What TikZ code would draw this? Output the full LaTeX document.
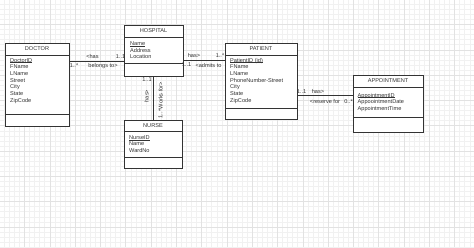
\documentclass[tikz,border=0pt]{standalone}
\usepackage{fontspec}
\setmainfont{Liberation Sans}
\definecolor{gminor}{HTML}{F1F1F1}
\definecolor{gmajor}{HTML}{E2E2E2}
\definecolor{ink}{HTML}{333333}
\newcommand\uln[1]{\setbox0\hbox{#1}\rlap{\rule[-0.8pt]{\wd0}{0.35pt}}\box0}
\begin{document}
\begin{tikzpicture}[x=1pt,y=-1pt,
  box/.style={draw=ink, line width=0.8pt, fill=white, anchor=north west, inner sep=0pt, outer sep=0pt},
  ttl/.style={font=\fontsize{5.6}{6.7}\selectfont, text=ink, inner sep=0pt},
  attr/.style={font=\fontsize{5.6}{6.7}\selectfont, text=ink, inner sep=0pt, anchor=base west},
  lbl/.style={font=\fontsize{5.6}{6.7}\selectfont, text=ink, inner sep=0pt},
  conn/.style={draw=ink, line width=0.7pt},
  divider/.style={draw=ink, line width=0.8pt},
  minorgrid/.style={draw=gminor, line width=0.5pt},
  majorgrid/.style={draw=gmajor, line width=0.6pt}]
\useasboundingbox (0,0) rectangle (474,247);
\fill[white] (0,0) rectangle (474,247);
% grid
\foreach \i in {0,...,94} {
  \draw[minorgrid] ({-0.8+\i*5.06},0) -- ({-0.8+\i*5.06},247);
}
\foreach \i in {0,...,49} {
  \draw[minorgrid] (0,{-0.8+\i*5.06}) -- (474,{-0.8+\i*5.06});
}
\foreach \i in {0,...,19} {
  \draw[majorgrid] ({-0.8+\i*25.3},0) -- ({-0.8+\i*25.3},247);
}
\foreach \i in {0,...,10} {
  \draw[majorgrid] (0,{-0.8+\i*25.3}) -- (474,{-0.8+\i*25.3});
}

% boxes
\node[box, minimum width=64pt, minimum height=83pt] (doctor) at (5,43) {};
\node[box, minimum width=59pt, minimum height=51pt] (hospital) at (124,25) {};
\node[box, minimum width=72pt, minimum height=76pt] (patient) at (225,43) {};
\node[box, minimum width=70pt, minimum height=57pt] (appointment) at (353,75) {};
\node[box, minimum width=58pt, minimum height=48pt] (nurse) at (124,120) {};

% dividers
\draw[divider] ([yshift=-12pt]doctor.north west) -- ([yshift=-12pt]doctor.north east);
\draw[divider] ([yshift=12pt]doctor.south west) -- ([yshift=12pt]doctor.south east);
\draw[divider] ([yshift=-12pt]hospital.north west) -- ([yshift=-12pt]hospital.north east);
\draw[divider] ([yshift=13pt]hospital.south west) -- ([yshift=13pt]hospital.south east);
\draw[divider] ([yshift=-12pt]patient.north west) -- ([yshift=-12pt]patient.north east);
\draw[divider] ([yshift=11pt]patient.south west) -- ([yshift=11pt]patient.south east);
\draw[divider] ([yshift=-12pt]appointment.north west) -- ([yshift=-12pt]appointment.north east);
\draw[divider] ([yshift=15pt]appointment.south west) -- ([yshift=15pt]appointment.south east);
\draw[divider] ([yshift=-11pt]nurse.north west) -- ([yshift=-11pt]nurse.north east);
\draw[divider] ([yshift=11pt]nurse.south west) -- ([yshift=11pt]nurse.south east);

% titles
\node[ttl] (tdoctor) at (37,49) {DOCTOR};
\node[ttl] (thospital) at (153.5,31) {HOSPITAL};
\node[ttl] (tpatient) at (261,49) {PATIENT};
\node[ttl] (tappointment) at (388,81) {APPOINTMENT};
\node[ttl] (tnurse) at (153,125.5) {NURSE};

% attributes
\foreach \t [count=\i] in {\uln{DoctorID},FName,LName,Street,City,State,ZipCode}
  \node[attr] (doc\i) at (10,{62+(\i-1)*6.7}) {\t};
\foreach \t [count=\i] in {\uln{Name},Address,Location}
  \node[attr] (hos\i) at (130,{45.3+(\i-1)*6.7}) {\t};
\foreach \t [count=\i] in {\uln{PatientID (id)},FName,LName,PhoneNumber-Street,City,State,ZipCode}
  \node[attr] (pat\i) at (230,{62+(\i-1)*6.7}) {\t};
\foreach \t [count=\i] in {\uln{AppointmentID},AppoointmentDate,AppointmentTime}
  \node[attr] (app\i) at (357.5,{97+(\i-1)*6.7}) {\t};
\foreach \t [count=\i] in {\uln{NurseID},Name,WardNo}
  \node[attr] (nur\i) at (129,{139.3+(\i-1)*6.5}) {\t};

% connectors
\draw[conn] (doctor.east |- 0,61.5) -- (hospital.west |- 0,61.5);
\draw[conn] (hospital.east |- 0,60.5) -- (patient.west |- 0,60.5);
\draw[conn] (patient.east |- 0,95.5) -- (appointment.west |- 0,95.5);
\draw[conn] (hospital.south) -- (hospital.south |- nurse.north);

% connector labels
\node[lbl] (l1) at (92.5,56.7) {<has};
\node[lbl] (l2) at (120.5,56.7) {1..1};
\node[lbl] (l3) at (74,65.7) {1..*};
\node[lbl] (l4) at (103,65.7) {belongs to>};
\node[lbl] (l5) at (194,55.7) {has>};
\node[lbl] (l6) at (220,55.7) {1..*};
\node[lbl] (l7) at (186.5,65) {1..1};
\node[lbl] (l8) at (208.5,65) {<admits to};
\node[lbl] (l9) at (301.5,91.7) {1..1};
\node[lbl] (l10) at (318,91.7) {has>};
\node[lbl] (l11) at (325,101.7) {<reserve for};
\node[lbl] (l12) at (348.5,101.7) {0..*};
\node[lbl] (l13) at (147,79.5) {1..1};
\node[lbl, rotate=90] (l14) at (146.5,96) {has>};
\node[lbl, rotate=90] (l15) at (160.5,95.5) {Works for>};
\node[lbl, rotate=90] (l16) at (160.5,114) {1..*};
\end{tikzpicture}
\end{document}
